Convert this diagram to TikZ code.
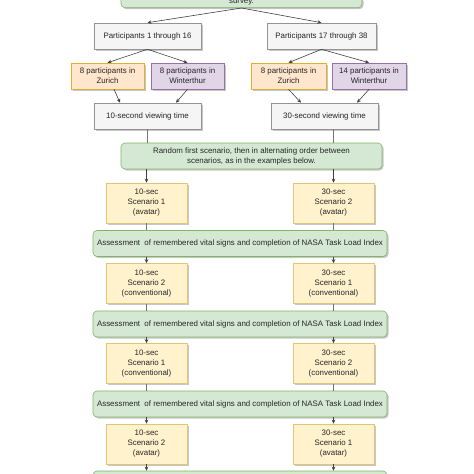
\documentclass[tikz,border=0pt]{standalone}
\usepackage{fontspec}
\setmainfont{Liberation Sans}
\usetikzlibrary{arrows.meta,shadows}

\definecolor{greenfill}{HTML}{D5E8D4}
\definecolor{greenline}{HTML}{82B366}
\definecolor{grayfill}{HTML}{F5F5F5}
\definecolor{grayline}{HTML}{666666}
\definecolor{orangefill}{HTML}{FFE6CC}
\definecolor{orangeline}{HTML}{D79B00}
\definecolor{purplefill}{HTML}{E1D5E7}
\definecolor{purpleline}{HTML}{9673A6}
\definecolor{yellowfill}{HTML}{FFF2CC}
\definecolor{yellowline}{HTML}{D6B656}

\tikzset{
  box/.style={draw, line width=0.6pt, align=center, inner sep=0pt, text=black!85,
    font=\fontsize{7.9}{10}\selectfont,
    drop shadow={shadow xshift=1.5pt, shadow yshift=-1.5pt, opacity=0.22, fill=black}},
  greenbox/.style={box, fill=greenfill, draw=greenline, rounded corners=4pt},
  graybox/.style={box, fill=grayfill, draw=grayline!70, minimum height=26pt},
  zbox/.style={box, fill=orangefill, draw=orangeline!80, minimum height=26pt},
  wbox/.style={box, fill=purplefill, draw=purpleline, minimum height=26pt},
  scenbox/.style={box, fill=yellowfill, draw=yellowline!80, minimum width=81pt, minimum height=40pt},
  assessbox/.style={greenbox, minimum width=294pt, minimum height=26pt},
  arr/.style={draw=black!75, line width=0.6pt, -{Stealth[length=4pt,width=3.6pt]}},
  link/.style={draw=black!55, line width=0.6pt}
}

\begin{document}
\begin{tikzpicture}[x=1pt,y=-1pt]
    \useasboundingbox (0,0) rectangle (474,474);
    \clip (0,0) rectangle (474,474);
    % groups
    \node (survey) [greenbox, minimum width=241pt, minimum height=12pt, anchor=south] at (241.5,8) {survey.};
    \node (p1) [graybox, minimum width=107pt] at (147.5,36) {Participants 1 through 16};
    \node (p2) [graybox, minimum width=109pt] at (321.5,36) {Participants 17 through 38};
    \node (zl1) [zbox, minimum width=73pt] at (107.5,76) {8 participants in\\Zurich};
    \node (wl1) [wbox, minimum width=73pt] at (187.5,76) {8 participants in\\Winterthur};
    \node (zl2) [zbox, minimum width=75pt] at (288.5,76) {8 participants in\\Zurich};
    \node (wl2) [wbox, minimum width=74pt] at (369,76) {14 participants in\\Winterthur};
    \node (v1) [graybox, minimum width=107pt] at (147.5,116) {10-second viewing time};
    \node (v2) [graybox, minimum width=107pt] at (324.5,116) {30-second viewing time};
    \node (rnd) [greenbox, minimum width=261pt, minimum height=26pt] at (251.5,156) {Random first scenario, then in alternating order between\\scenarios, as in the examples below.};
    % scenarios and assessments
    \node (s1a) [scenbox] at (146.5,203) {10-sec\\Scenario 1\\(avatar)};
    \node (s1b) [scenbox] at (333.5,203) {30-sec\\Scenario 2\\(avatar)};
    \node (a1) [assessbox] at (240,243.5) {Assessment\ \ of remembered vital signs and completion of NASA Task Load Index};
    \node (s2a) [scenbox] at (146.5,283.5) {10-sec\\Scenario 2\\(conventional)};
    \node (s2b) [scenbox] at (333.5,283.5) {30-sec\\Scenario 1\\(conventional)};
    \node (a2) [assessbox] at (240,324) {Assessment\ \ of remembered vital signs and completion of NASA Task Load Index};
    \node (s3a) [scenbox] at (146.5,363.5) {10-sec\\Scenario 1\\(conventional)};
    \node (s3b) [scenbox] at (333.5,363.5) {30-sec\\Scenario 2\\(conventional)};
    \node (a3) [assessbox] at (240,404) {Assessment\ \ of remembered vital signs and completion of NASA Task Load Index};
    \node (s4a) [scenbox] at (146.5,444) {10-sec\\Scenario 2\\(avatar)};
    \node (s4b) [scenbox] at (333.5,444) {30-sec\\Scenario 1\\(avatar)};
    \node (a4) [assessbox] at (240,484) {};
    % connectors
    \draw[arr] (survey.south) -- (p1.north);
    \draw[arr] (survey.south) -- (p2.north);
    \draw[arr] (p1.south) -- (zl1.north);
    \draw[arr] (p1.south) -- (wl1.north);
    \draw[arr] (p2.south) -- (zl2.north);
    \draw[arr] (p2.south) -- (wl2.north);
    \draw[arr] ([xshift=6.5pt]zl1.south) -- ([xshift=-27.5pt]v1.north);
    \draw[arr] (wl1.south) -- ([xshift=28.5pt]v1.north);
    \draw[arr] (zl2.south) -- ([xshift=-23.5pt]v2.north);
    \draw[arr] (wl2.south) -- ([xshift=32.5pt]v2.north);
    \draw[link] (v1.south) -- (v1.south |- rnd.north);
    \draw[link] (v2.south -| s1b) -- (rnd.north -| s1b);
    \draw[arr] (rnd.south -| s1a) -- (s1a.north);
    \draw[arr] (rnd.south -| s1b) -- (s1b.north);
    \draw[link] (s1a.south) -- (a1.north -| s1a);
    \draw[link] (s1b.south) -- (a1.north -| s1b);
    \draw[arr] (a1.south -| s2a) -- (s2a.north);
    \draw[arr] (a1.south -| s2b) -- (s2b.north);
    \draw[link] (s2a.south) -- (a2.north -| s2a);
    \draw[link] (s2b.south) -- (a2.north -| s2b);
    \draw[arr] (a2.south -| s3a) -- (s3a.north);
    \draw[arr] (a2.south -| s3b) -- (s3b.north);
    \draw[link] (s3a.south) -- (a3.north -| s3a);
    \draw[link] (s3b.south) -- (a3.north -| s3b);
    \draw[arr] (a3.south -| s4a) -- (s4a.north);
    \draw[arr] (a3.south -| s4b) -- (s4b.north);
    \draw[arr] (s4a.south) -- (a4.north -| s4a);
    \draw[arr] (s4b.south) -- (a4.north -| s4b);
\end{tikzpicture}
\end{document}
